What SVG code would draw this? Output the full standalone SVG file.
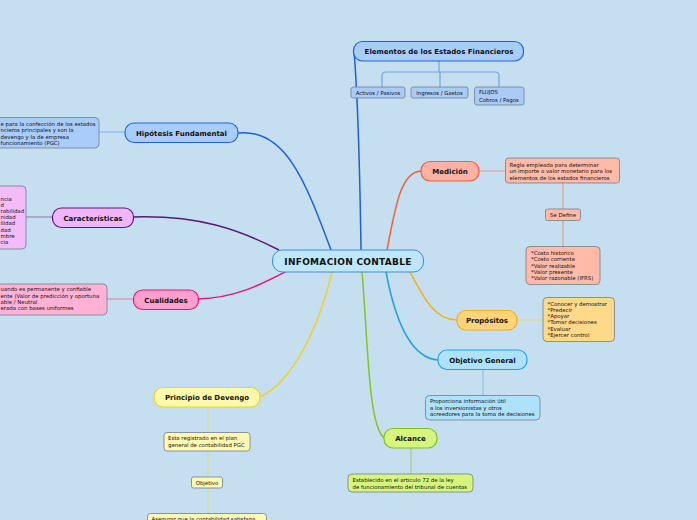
<svg xmlns="http://www.w3.org/2000/svg" width="697" height="520" viewBox="0 0 697 520">
<style>
text{font-family:"DejaVu Sans","Liberation Sans",sans-serif;fill:#111}
.t{font-size:7px;font-weight:bold;text-anchor:middle}
.c{font-size:9px;font-weight:bold;text-anchor:middle;letter-spacing:0.3px}
.s{font-size:5.4px}
.sm{font-size:5.4px;text-anchor:middle}
.br{fill:none;stroke-width:1.5}
.sub{fill:none;stroke-width:1.2}
.box{stroke:#6f7f8f;stroke-width:0.8}
</style>
<rect width="697" height="520" fill="#c5dff0"/>
<g id="connectors">
<path class="br" stroke="#1f5fd4" d="M361,250 C360,180 358,100 354,51"/>
<path class="br" stroke="#1f5fd4" d="M238,133 C285,128 305,180 331,250"/>
<path class="br" stroke="#5a1a6e" d="M133,217 C200,215 240,230 279,250"/>
<path class="br" stroke="#e5147a" d="M198,299 C235,298 260,285 287,271"/>
<path class="br" stroke="#f0d030" d="M260,397 C292,382 318,330 332,272"/>
<path class="br" stroke="#86c422" d="M362,272 C368,340 368,425 384,438"/>
<path class="br" stroke="#1ea2e2" d="M386,272 C395,320 410,358 438,360"/>
<path class="br" stroke="#f0b020" d="M410,272 C425,300 435,320 457,320"/>
<path class="br" stroke="#f0603a" d="M387,250 C395,210 400,172 421,171"/>
<path class="sub" stroke="#6fa3e6" d="M439,61 V72 M382,87 V76 Q382,72 386,72 H495 Q499,72 499,76 V87 M440,72 V87"/>
<path class="sub" stroke="#8fb8ec" d="M99,132 H125"/>
<path class="sub" stroke="#9a88b0" d="M26,217 H52"/>
<path class="sub" stroke="#d890b8" d="M107,299 H133"/>
<path class="sub" stroke="#dcd890" d="M208,407 V432 M208,451 V477 M208,488 V513"/>
<path class="sub" stroke="#a6cc8c" d="M411,448 V474"/>
<path class="sub" stroke="#88c6e2" d="M483,370 V395"/>
<path class="sub" stroke="#e8d490" d="M517,320 H543"/>
<path class="sub" stroke="#d8a090" d="M479,171 H505 M563,183 V209 M563,221 V247"/>
</g>
<g id="central">
<rect x="272.5" y="250" width="151" height="22" rx="10" fill="#c0e6fb" stroke="#3a8fd0" stroke-width="1"/>
<text class="c" x="348" y="264.5">INFOMACION CONTABLE</text>
</g>
<g id="elementos">
<rect x="353.5" y="41.5" width="170" height="19.5" rx="9" fill="#a9cdfb" stroke="#1f64d6" stroke-width="1.2"/>
<text class="t" x="439" y="53.5">Elementos de los Estados Financieros</text>
</g>
<g id="activos">
<rect x="351" y="87" width="54" height="11" rx="2" fill="#a9cbf6" class="box"/>
<text class="sm" x="378" y="94.6">Activos / Pasivos</text>
</g>
<g id="ingresos">
<rect x="411" y="87" width="57" height="11" rx="2" fill="#a9cbf6" class="box"/>
<text class="sm" x="439.5" y="94.6">Ingresos / Gastos</text>
</g>
<g id="flujos">
<rect x="474.5" y="87" width="49.5" height="18" rx="2.5" fill="#a9cbf6" class="box"/>
<text class="s" x="479" y="94">FLUJOS</text>
<text class="s" x="479" y="102">Cobros / Pagos</text>
</g>
<g id="hipotesis">
<rect x="125" y="123" width="113" height="19.5" rx="9" fill="#a9cdfb" stroke="#1f64d6" stroke-width="1.2"/>
<text class="t" x="181.5" y="135.5">Hipótesis Fundamental</text>
</g>
<g id="hipotesis-texto">
<rect x="-20" y="117.5" width="119" height="30.5" rx="4" fill="#a9cdfb" class="box"/>
<text class="s" x="0.5" y="126">e para la confección de los estados</text>
<text class="s" x="0.5" y="132.3">ncieros principales y son la</text>
<text class="s" x="0.5" y="138.6">devengo y la de empresa</text>
<text class="s" x="0.5" y="144.9">funcionamiento (PGC)</text>
</g>
<g id="caracteristicas">
<rect x="52.5" y="208" width="81" height="19.5" rx="9" fill="#f0b5f8" stroke="#5a1a6e" stroke-width="1.2"/>
<text class="t" x="93" y="220.5">Características</text>
</g>
<g id="caracteristicas-texto">
<rect x="-20" y="186" width="46" height="63" rx="4" fill="#f2bcf9" class="box"/>
<text class="s" x="0.5" y="201">ncia</text>
<text class="s" x="0.5" y="207.1">d</text>
<text class="s" x="0.5" y="213.2">rabilidad</text>
<text class="s" x="0.5" y="219.3">nidad</text>
<text class="s" x="0.5" y="225.4">ilidad</text>
<text class="s" x="0.5" y="231.5">dad</text>
<text class="s" x="0.5" y="237.6">mbre</text>
<text class="s" x="0.5" y="243.7">cia</text>
</g>
<g id="cualidades">
<rect x="133.5" y="290" width="65" height="19.5" rx="9" fill="#ff9fcf" stroke="#e5147a" stroke-width="1.2"/>
<text class="t" x="166" y="302.5">Cualidades</text>
</g>
<g id="cualidades-texto">
<rect x="-20" y="284" width="127" height="31" rx="4" fill="#ffb2d6" class="box"/>
<text class="s" x="0.5" y="291.3">uando es permanente y confiable</text>
<text class="s" x="0.5" y="297.5">ente (Valor de predicción y oportuna</text>
<text class="s" x="0.5" y="303.7">able / Neutral</text>
<text class="s" x="0.5" y="309.9">erada con bases uniformes</text>
</g>
<g id="medicion">
<rect x="421" y="161.5" width="58" height="19.5" rx="9" fill="#ffb2a2" stroke="#f0603a" stroke-width="1.2"/>
<text class="t" x="450" y="174">Medición</text>
</g>
<g id="regla">
<rect x="505.5" y="158" width="114" height="25" rx="3" fill="#ffbaa8" class="box"/>
<text class="s" x="509.5" y="167">Regla empleada para determinar</text>
<text class="s" x="509.5" y="173.4">un importe o valor monetario para los</text>
<text class="s" x="509.5" y="179.8">elementos de los estados financieros</text>
</g>
<g id="se-define">
<rect x="545.5" y="209" width="35" height="11.5" rx="2" fill="#ffbaa8" class="box"/>
<text class="sm" x="563" y="216.8">Se Define</text>
</g>
<g id="costos">
<rect x="526" y="246.5" width="74" height="38" rx="4" fill="#ffbaa8" class="box"/>
<text class="s" x="531" y="255">*Costo historico</text>
<text class="s" x="531" y="261.3">*Costo corriente</text>
<text class="s" x="531" y="267.6">*Valor realizable</text>
<text class="s" x="531" y="273.9">*Valor presente</text>
<text class="s" x="531" y="280.2">*Valor razonable (IFRS)</text>
</g>
<g id="propositos">
<rect x="457" y="310.5" width="60" height="19.5" rx="9" fill="#ffd47a" stroke="#f0b020" stroke-width="1.2"/>
<text class="t" x="487" y="323">Propósitos</text>
</g>
<g id="propositos-texto">
<rect x="543" y="297.5" width="71.5" height="44" rx="4" fill="#ffd98a" class="box"/>
<text class="s" x="547.5" y="305.5">*Conocer y demostrar</text>
<text class="s" x="547.5" y="311.8">*Predecir</text>
<text class="s" x="547.5" y="318.1">*Apoyar</text>
<text class="s" x="547.5" y="324.4">*Tomar decisiones</text>
<text class="s" x="547.5" y="330.7">*Evaluar</text>
<text class="s" x="547.5" y="337">*Ejercer control</text>
</g>
<g id="objetivo-general">
<rect x="438" y="350" width="89" height="19.5" rx="9" fill="#aee2fa" stroke="#1ea2e2" stroke-width="1.2"/>
<text class="t" x="482.5" y="362.5">Objetivo General</text>
</g>
<g id="objetivo-texto">
<rect x="425.5" y="395.5" width="114.5" height="24.5" rx="4" fill="#aee2fa" class="box"/>
<text class="s" x="430" y="403">Proporciona información útil</text>
<text class="s" x="430" y="409.6"> a los inversionistas y otros</text>
<text class="s" x="430" y="416.4">acreedores para la toma de decisiones</text>
</g>
<g id="alcance">
<rect x="384" y="428.5" width="53" height="19.5" rx="9" fill="#d6f57e" stroke="#7ec41e" stroke-width="1.2"/>
<text class="t" x="410.5" y="441">Alcance</text>
</g>
<g id="alcance-texto">
<rect x="348" y="474" width="125" height="18" rx="4" fill="#d6f57e" class="box"/>
<text class="s" x="352.5" y="481.8">Establecido en el articulo 72 de la ley</text>
<text class="s" x="352.5" y="488.6">de funcionamiento del tribunal de cuentas</text>
</g>
<g id="devengo">
<rect x="154" y="387.5" width="106" height="19.5" rx="9" fill="#fff9a8" stroke="#e8d23a" stroke-width="1.2"/>
<text class="t" x="207" y="400">Principio de Devengo</text>
</g>
<g id="registrado">
<rect x="164" y="432.5" width="86" height="18.5" rx="3" fill="#fff9b4" class="box"/>
<text class="s" x="168" y="440">Esta registrado en el plan</text>
<text class="s" x="168" y="447">general de contabilidad PGC</text>
</g>
<g id="objetivo">
<rect x="191.5" y="477" width="31" height="11" rx="2" fill="#fff9b4" class="box"/>
<text class="sm" x="207" y="484.5">Objetivo</text>
</g>
<g id="asegurar">
<rect x="147.5" y="513.5" width="119" height="14" rx="3" fill="#fff9b4" class="box"/>
<text class="s" x="151.5" y="521">Asegurar que la contabilidad satisfaga</text>
</g>
</svg>
